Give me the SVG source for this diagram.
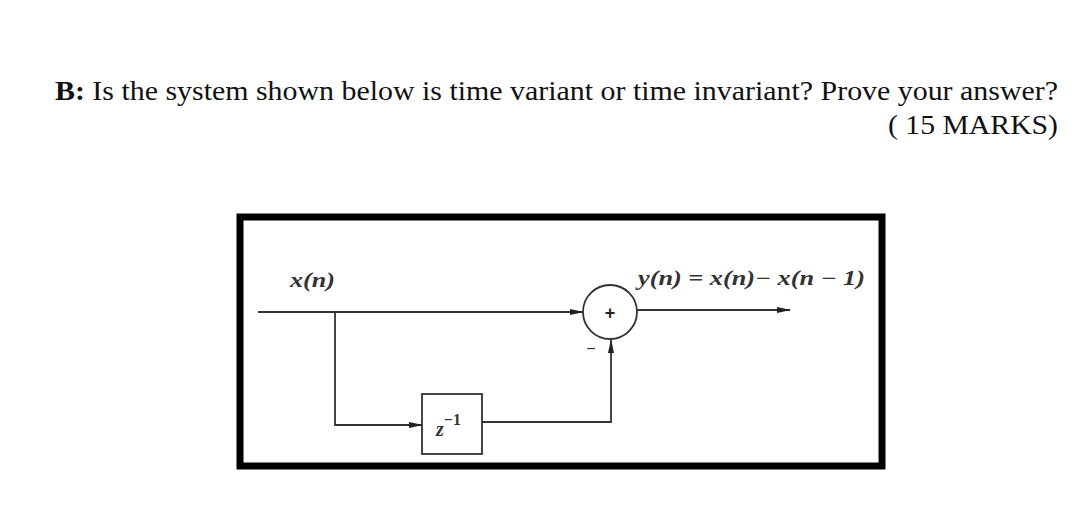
<svg xmlns="http://www.w3.org/2000/svg" width="1080" height="523" viewBox="0 0 1080 523">
<style>
.t{font-family:"Liberation Serif",serif;fill:#111}
.m{font-family:"Liberation Serif","DejaVu Serif",serif;font-style:italic;font-weight:bold;fill:#333;font-size:20px}
.ln{stroke:#333;stroke-width:1.8;fill:none}
</style>
<defs>
<marker id="ah" markerWidth="14" markerHeight="8" refX="13" refY="4" orient="auto" markerUnits="userSpaceOnUse">
<path d="M0,1 L14,4 L0,7 Z" fill="#222"/>
</marker>
</defs>
<rect width="1080" height="523" fill="#fff"/>
<text class="t" x="55" y="100" font-size="27" textLength="1003" lengthAdjust="spacingAndGlyphs"><tspan font-weight="bold">B:</tspan> Is the system shown below is time variant or time invariant? Prove your answer?</text>
<text class="t" x="1058" y="134" font-size="27" text-anchor="end" textLength="170" lengthAdjust="spacingAndGlyphs">( 15 MARKS)</text>
<rect id="frame" x="240" y="217" width="642" height="249" fill="none" stroke="#000" stroke-width="7"/>
<g id="connectors">
<path class="ln" d="M258,312 H583" marker-end="url(#ah)"/>
<path class="ln" d="M335,312 V425 H422" marker-end="url(#ah)"/>
<path class="ln" d="M482,422 H611 V340" marker-end="url(#ah)"/>
<path class="ln" d="M637,310 H790" marker-end="url(#ah)"/>
</g>
<g id="sum">
<circle cx="610" cy="312" r="27" fill="#fff" stroke="#333" stroke-width="1.8"/>
<text x="610" y="319" font-family="Liberation Sans,sans-serif" font-size="18" font-weight="bold" text-anchor="middle" fill="#222">+</text>
<text x="591" y="354" font-family="Liberation Sans,sans-serif" font-size="16" text-anchor="middle" fill="#333">−</text>
</g>
<g id="delay">
<rect x="422" y="394" width="60" height="60" fill="#fff" stroke="#333" stroke-width="1.8"/>
<text class="m" x="436" y="436" font-weight="normal">z<tspan font-size="16" font-style="normal" dy="-11">−1</tspan></text>
</g>
<g id="labels">
<text class="m" x="290" y="287" textLength="45" lengthAdjust="spacingAndGlyphs">x(n)</text>
<text class="m" x="638" y="285" textLength="227" lengthAdjust="spacingAndGlyphs">y(n) = x(n)− x(n − 1)</text>
</g>
</svg>
